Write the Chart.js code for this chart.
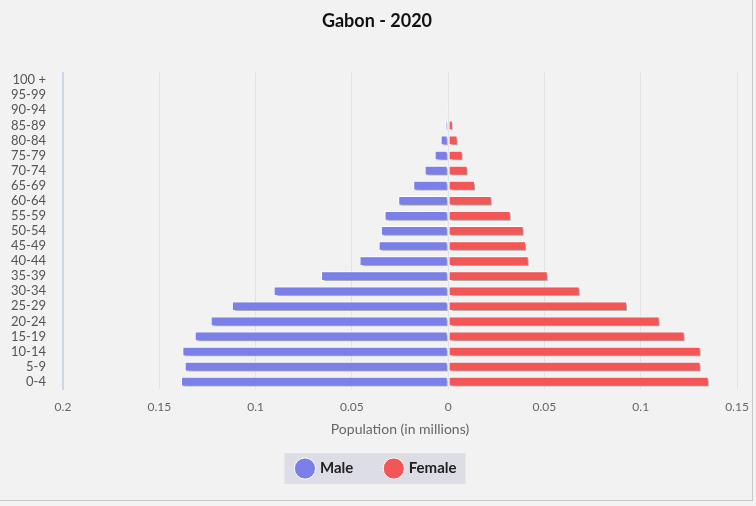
<!DOCTYPE html>
<html>
<head>
<meta charset="utf-8">
<script src="https://cdn.jsdelivr.net/npm/chart.js@4"></script>
<style>
  html, body { margin: 0; padding: 0; background: #f3f3f3; }
  #wrap { width: 752px; height: 500px; border-right: 1px solid #c9c9c9; border-bottom: 1px solid #c9c9c9; background: #f2f2f2; }
</style>
</head>
<body>
<div id="wrap"><canvas id="pyramid"></canvas></div>
<script>
// age groups, bottom to top
const ageGroups = ["0-4", "5-9", "10-14", "15-19", "20-24", "25-29", "30-34", "35-39", "40-44", "45-49",
  "50-54", "55-59", "60-64", "65-69", "70-74", "75-79", "80-84", "85-89", "90-94", "95-99", "100 +"]

// population in millions
const male = [0.1387, 0.1368, 0.138, 0.1316, 0.1233, 0.1123, 0.0906, 0.066, 0.046, 0.0361,
  0.0349, 0.033, 0.0259, 0.0181, 0.0122, 0.007, 0.0039, 0.0015, 0.0005, 0.0001, 0]
const female = [0.1353, 0.1311, 0.1311, 0.1228, 0.1098, 0.0929, 0.0683, 0.0517, 0.0418, 0.0405,
  0.0392, 0.0325, 0.0226, 0.014, 0.0101, 0.0075, 0.0049, 0.0024, 0.0006, 0.0001, 0]

const xTicks = [-0.2, -0.15, -0.1, -0.05, 0, 0.05, 0.1, 0.15]

const FONT = "Lato, 'Noto Sans', sans-serif"

// soft drop shadow under the bars
const barShadow = {
  id: "barShadow",
  beforeDatasetsDraw(chart) {
    const ctx = chart.ctx
    ctx.save()
    ctx.shadowColor = "rgba(0,0,0,0.35)"
    ctx.shadowBlur = 2
    ctx.shadowOffsetX = 2
    ctx.shadowOffsetY = 2
  },
  afterDatasetsDraw(chart) {
    chart.ctx.restore()
  }
}

// grey box behind the legend
const legendBox = {
  id: "legendBox",
  beforeDraw(chart) {
    const boxes = chart.legend && chart.legend.legendHitBoxes
    if (!boxes || !boxes.length) return
    const left = Math.min(...boxes.map(b => b.left)) - 13
    const right = Math.max(...boxes.map(b => b.left + b.width)) + 9
    const top = Math.min(...boxes.map(b => b.top)) - 8
    const bottom = Math.max(...boxes.map(b => b.top + b.height)) + 8
    const ctx = chart.ctx
    ctx.save()
    ctx.fillStyle = "#dddde6"
    ctx.fillRect(left, top, right - left, bottom - top)
    ctx.restore()
  }
}

new Chart(document.getElementById("pyramid"), {
  type: "bar",
  data: {
    labels: ageGroups,
    datasets: [
      {
        label: "Male",
        data: male.map(v => -v),
        backgroundColor: "#7b7fe8",
        borderColor: "#ffffff",
        borderWidth: 1,
        borderSkipped: false
      },
      {
        label: "Female",
        data: female,
        backgroundColor: "#f25656",
        borderColor: "#ffffff",
        borderWidth: 1,
        borderSkipped: false
      }
    ]
  },
  options: {
    indexAxis: "y",
    responsive: true,
    maintainAspectRatio: false,
    animation: false,
    layout: { padding: { left: 2, right: 0, top: 0, bottom: 14 } },
    datasets: { bar: { categoryPercentage: 1, barPercentage: 0.64 } },
    scales: {
      x: {
        stacked: true,
        min: -0.2,
        max: 0.15,
        afterBuildTicks(axis) {
          axis.ticks = xTicks.map(v => ({ value: v }))
        },
        afterFit(axis) {
          axis.paddingRight = 15
          axis.paddingLeft = 0
        },
        ticks: {
          color: "#666",
          font: { family: FONT, size: 12, lineHeight: 1 },
          padding: 12,
          callback: v => String(+Math.abs(v).toFixed(2))
        },
        grid: { color: "#e2e2e2", drawTicks: false },
        border: { display: false },
        title: {
          display: true,
          text: "Population (in millions)",
          color: "#666",
          font: { family: FONT, size: 14 },
          padding: { top: -4, bottom: -10 }
        }
      },
      y: {
        stacked: true,
        reverse: true,
        ticks: {
          color: "#555",
          font: { family: FONT, size: 13 },
          padding: 9,
          autoSkip: false
        },
        grid: { display: false },
        border: { display: true, color: "#cbd6e6", width: 2 }
      }
    },
    plugins: {
      title: {
        display: true,
        text: "Gabon - 2020",
        color: "#111",
        font: { family: FONT, size: 18, weight: "bold" },
        padding: { top: 10, bottom: 41 }
      },
      legend: {
        position: "bottom",
        labels: {
          usePointStyle: true,
          pointStyle: "circle",
          boxWidth: 15,
          boxHeight: 15,
          padding: 33,
          color: "#222",
          font: { family: FONT, size: 15, weight: "bold" }
        }
      },
      tooltip: { enabled: false }
    }
  },
  plugins: [barShadow, legendBox]
})
</script>
</body>
</html>
